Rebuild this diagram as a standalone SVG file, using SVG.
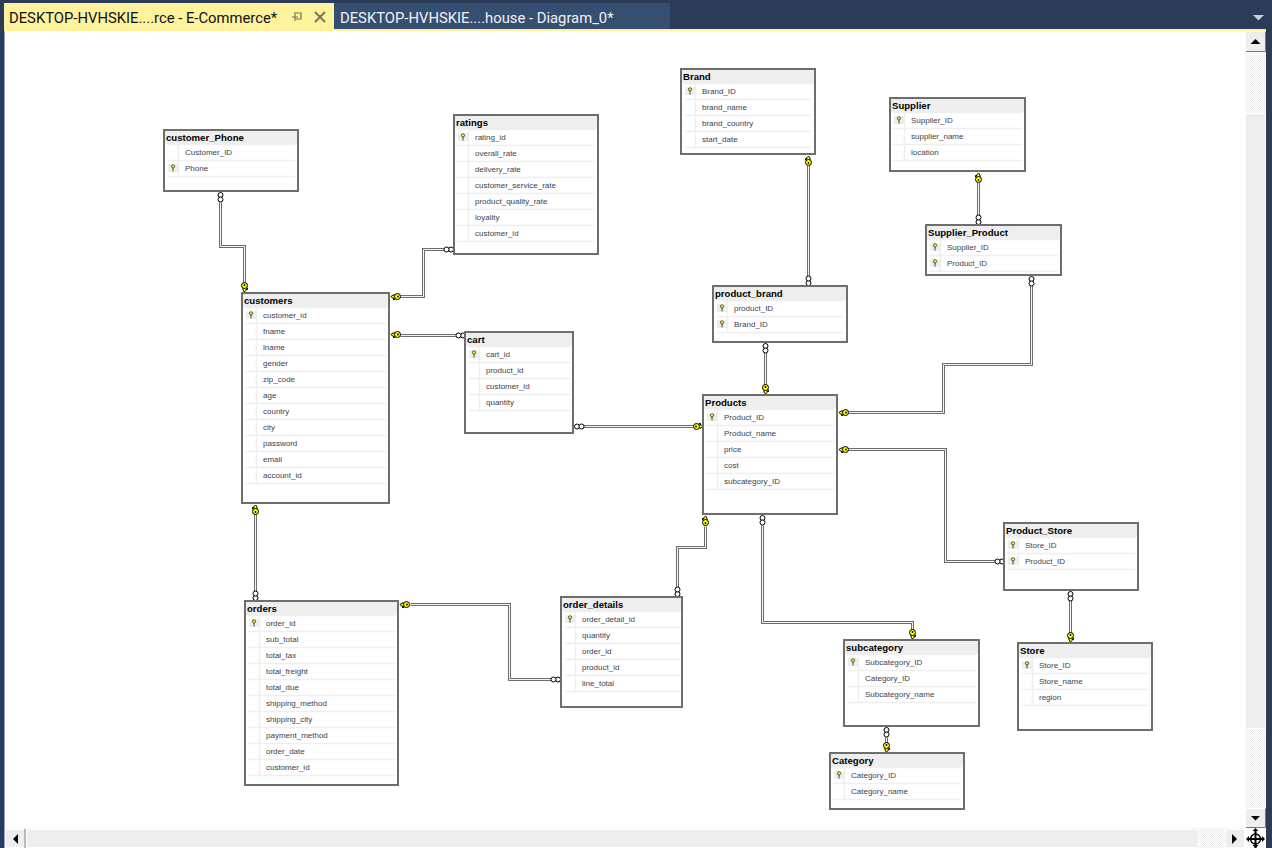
<svg xmlns="http://www.w3.org/2000/svg" width="1272" height="848" viewBox="0 0 1272 848">
<style>
.box{fill:#fff;stroke:#6e6e6e;stroke-width:2}
.head{fill:#eee}
.rowl{stroke:#efefef;stroke-width:1.5;fill:none}
.t{font-family:"Liberation Sans",sans-serif;font-size:9.6px;font-weight:700;fill:#000}
.f{font-family:"Liberation Sans",sans-serif;font-size:8px;fill:#3a4250}
.tab{font-family:"Roboto",sans-serif;font-size:14.8px}
.c1{fill:none;stroke:#6e6e6e;stroke-width:3}
.c2{fill:none;stroke:#f4f4f4;stroke-width:1}
.k{fill:#ffff00;stroke:#000;stroke-width:1}
.i{fill:#fff;stroke:#000;stroke-width:1}
.btn{fill:#eee;stroke:#fff;stroke-width:1}
.ar{fill:#000}
</style>
<defs>
<pattern id="dots" width="2" height="2" patternUnits="userSpaceOnUse"><rect width="2" height="2" fill="#fff"/><rect width="1" height="1" fill="#eee"/><rect x="1" y="1" width="1" height="1" fill="#eee"/></pattern>
<g id="key"><path class="k" d="M0.500 0L2.500 -1.500H5.500V1.500H4.500V3H3V1.500H2Z"/><circle class="k" cx="7" cy="0" r="3"/><circle cx="7.500" cy="0" r="0.9" fill="#000"/></g>
<g id="inf"><circle class="i" cx="2.500" cy="0" r="2.500"/><circle class="i" cx="7" cy="0" r="2.500"/></g>
<g id="pk"><rect x="-5" y="-4" width="11" height="8" fill="#eee"/><path d="M0 -3.200a1.600 1.600 0 1 1 -0.010 0M0 0V3.500" fill="#ff0" stroke="#332" stroke-width="0.900"/></g>
</defs>

<rect id="bg" width="1272" height="848" fill="#2b3b58"/>
<rect x="4" y="29" width="1262" height="819" fill="#fff"/>
<rect x="4" y="29" width="1" height="819" fill="#8ea2c8"/>
<rect x="4" y="29" width="1262" height="2" fill="#fff29d"/>

<g id="tabs">
<rect x="4" y="3" width="330" height="28" fill="#fff29d"/>
<rect x="334" y="3" width="336" height="26" fill="#364e6f"/>
<text class="tab" x="9" y="23" fill="#111">DESKTOP-HVHSKIE....rce - E-Commerce*</text>
<text class="tab" x="340" y="23" fill="#eef2f8">DESKTOP-HVHSKIE....house - Diagram_0*</text>
<path d="M292 17h6M295 12v9M296 13h5v6h-5M301 16h-1" fill="none" stroke="#7c7550" stroke-width="1.200"/>
<path d="M315 12l10 10M325 12l-10 10" fill="none" stroke="#7c7550" stroke-width="2"/>
<path d="M1253 15h11l-5.500 5.500z" fill="#c9d0dc"/>
</g>

<g id="connectors" transform="translate(0.500,0.500)">
<g id="c-phone"><path class="c1" d="M220 202V246H244V283"/><path class="c2" d="M220 202V246H244V283"/><use href="#inf" transform="translate(220,192) rotate(90)"/><use href="#key" transform="translate(244,292) rotate(-90)"/></g>
<g id="c-ratings"><path class="c1" d="M444 249H423V296H400"/><path class="c2" d="M444 249H423V296H400"/><use href="#inf" transform="translate(453,249) rotate(180)"/><use href="#key" transform="translate(390,296)"/></g>
<g id="c-cart-cust"><path class="c1" d="M456 335H400"/><path class="c2" d="M456 335H400"/><use href="#inf" transform="translate(465,335) rotate(180)"/><use href="#key" transform="translate(390,334)"/></g>
<g id="c-cart-prod"><path class="c1" d="M583 426H693"/><path class="c2" d="M583 426H693"/><use href="#inf" transform="translate(574,426)"/><use href="#key" transform="translate(703,426) rotate(180)"/></g>
<g id="c-cust-orders"><path class="c1" d="M255 514V592"/><path class="c2" d="M255 514V592"/><use href="#key" transform="translate(255,504) rotate(90)"/><use href="#inf" transform="translate(255,600) rotate(-90)"/></g>
<g id="c-orders-det"><path class="c1" d="M410 604H509V679H551"/><path class="c2" d="M410 604H509V679H551"/><use href="#key" transform="translate(399,604)"/><use href="#inf" transform="translate(560,679) rotate(180)"/></g>
<g id="c-det-prod"><path class="c1" d="M677 587V547H705V526"/><path class="c2" d="M677 587V547H705V526"/><use href="#inf" transform="translate(677,596) rotate(-90)"/><use href="#key" transform="translate(705,515) rotate(90)"/></g>
<g id="c-prod-sub"><path class="c1" d="M762 525V622H912V630"/><path class="c2" d="M762 525V622H912V630"/><use href="#inf" transform="translate(762,515) rotate(90)"/><use href="#key" transform="translate(912,639) rotate(-90)"/></g>
<g id="c-sub-cat"><path class="c1" d="M886 737V743"/><path class="c2" d="M886 737V743"/><use href="#inf" transform="translate(886,727) rotate(90)"/><use href="#key" transform="translate(886,752) rotate(-90)"/></g>
<g id="c-pb-prod"><path class="c1" d="M765 352V385"/><path class="c2" d="M765 352V385"/><use href="#inf" transform="translate(765,343) rotate(90)"/><use href="#key" transform="translate(765,394) rotate(-90)"/></g>
<g id="c-pb-brand"><path class="c1" d="M808 276V165"/><path class="c2" d="M808 276V165"/><use href="#inf" transform="translate(808,285) rotate(-90)"/><use href="#key" transform="translate(808,155) rotate(90)"/></g>
<g id="c-sp-sup"><path class="c1" d="M978 215V182"/><path class="c2" d="M978 215V182"/><use href="#inf" transform="translate(978,224) rotate(-90)"/><use href="#key" transform="translate(978,172) rotate(90)"/></g>
<g id="c-sp-prod"><path class="c1" d="M1031 285V364H943V412H848"/><path class="c2" d="M1031 285V364H943V412H848"/><use href="#inf" transform="translate(1031,276) rotate(90)"/><use href="#key" transform="translate(838,412)"/></g>
<g id="c-ps-prod"><path class="c1" d="M995 561H945V449H848"/><path class="c2" d="M995 561H945V449H848"/><use href="#inf" transform="translate(1004,561) rotate(180)"/><use href="#key" transform="translate(838,449)"/></g>
<g id="c-ps-store"><path class="c1" d="M1070 600V633"/><path class="c2" d="M1070 600V633"/><use href="#inf" transform="translate(1070,591) rotate(90)"/><use href="#key" transform="translate(1070,642) rotate(-90)"/></g>
</g>

<g id="customer_Phone"><rect class="box" x="164" y="130" width="134" height="61"/><rect class="head" x="165" y="131" width="132" height="13"/><path class="rowl" d="M167 144.500H295M167 160.500H295M167 176.500H295M178.500 145V176"/><use href="#pk" transform="translate(173,168)"/><text class="t" x="166" y="141">customer_Phone</text><text class="f" x="185" y="155">Customer_ID</text><text class="f" x="185" y="171">Phone</text></g>

<g id="ratings"><rect class="box" x="454" y="115" width="144" height="139"/><rect class="head" x="455" y="116" width="142" height="13"/><path class="rowl" d="M457 129.500H595M457 145.500H595M457 161.500H595M457 177.500H595M457 193.500H595M457 209.500H595M457 225.500H595M457 241.500H595M468.500 130V241"/><use href="#pk" transform="translate(463,137)"/><text class="t" x="456" y="126">ratings</text><text class="f" x="475" y="140">rating_id</text><text class="f" x="475" y="156">overall_rate</text><text class="f" x="475" y="172">delivery_rate</text><text class="f" x="475" y="188">customer_service_rate</text><text class="f" x="475" y="204">product_quality_rate</text><text class="f" x="475" y="220">loyality</text><text class="f" x="475" y="236">customer_id</text></g>

<g id="Brand"><rect class="box" x="681" y="69" width="134" height="85"/><rect class="head" x="682" y="70" width="132" height="13"/><path class="rowl" d="M684 83.500H812M684 99.500H812M684 115.500H812M684 131.500H812M684 147.500H812M695.500 84V147"/><use href="#pk" transform="translate(690,91)"/><text class="t" x="683" y="80">Brand</text><text class="f" x="702" y="94">Brand_ID</text><text class="f" x="702" y="110">brand_name</text><text class="f" x="702" y="126">brand_country</text><text class="f" x="702" y="142">start_date</text></g>

<g id="Supplier"><rect class="box" x="890" y="98" width="135" height="73"/><rect class="head" x="891" y="99" width="133" height="13"/><path class="rowl" d="M893 112.500H1022M893 128.500H1022M893 144.500H1022M893 160.500H1022M904.500 113V160"/><use href="#pk" transform="translate(899,120)"/><text class="t" x="892" y="109">Supplier</text><text class="f" x="911" y="123">Supplier_ID</text><text class="f" x="911" y="139">supplier_name</text><text class="f" x="911" y="155">location</text></g>

<g id="Supplier_Product"><rect class="box" x="926" y="225" width="135" height="50"/><rect class="head" x="927" y="226" width="133" height="13"/><path class="rowl" d="M929 239.500H1058M929 255.500H1058M929 271.500H1058M940.500 240V271"/><use href="#pk" transform="translate(935,247)"/><use href="#pk" transform="translate(935,263)"/><text class="t" x="928" y="236">Supplier_Product</text><text class="f" x="947" y="250">Supplier_ID</text><text class="f" x="947" y="266">Product_ID</text></g>

<g id="product_brand"><rect class="box" x="713" y="286" width="134" height="56"/><rect class="head" x="714" y="287" width="132" height="13"/><path class="rowl" d="M716 300.500H844M716 316.500H844M716 332.500H844M727.500 301V332"/><use href="#pk" transform="translate(722,308)"/><use href="#pk" transform="translate(722,324)"/><text class="t" x="715" y="297">product_brand</text><text class="f" x="734" y="311">product_ID</text><text class="f" x="734" y="327">Brand_ID</text></g>

<g id="customers"><rect class="box" x="242" y="293" width="147" height="210"/><rect class="head" x="243" y="294" width="145" height="13"/><path class="rowl" d="M245 307.500H386M245 323.500H386M245 339.500H386M245 355.500H386M245 371.500H386M245 387.500H386M245 403.500H386M245 419.500H386M245 435.500H386M245 451.500H386M245 467.500H386M245 483.500H386M256.500 308V483"/><use href="#pk" transform="translate(251,315)"/><text class="t" x="244" y="304">customers</text><text class="f" x="263" y="318">customer_id</text><text class="f" x="263" y="334">fname</text><text class="f" x="263" y="350">lname</text><text class="f" x="263" y="366">gender</text><text class="f" x="263" y="382">zip_code</text><text class="f" x="263" y="398">age</text><text class="f" x="263" y="414">country</text><text class="f" x="263" y="430">city</text><text class="f" x="263" y="446">password</text><text class="f" x="263" y="462">email</text><text class="f" x="263" y="478">account_id</text></g>

<g id="cart"><rect class="box" x="465" y="332" width="108" height="101"/><rect class="head" x="466" y="333" width="106" height="13"/><path class="rowl" d="M468 346.500H570M468 362.500H570M468 378.500H570M468 394.500H570M468 410.500H570M479.500 347V410"/><use href="#pk" transform="translate(474,354)"/><text class="t" x="467" y="343">cart</text><text class="f" x="486" y="357">cart_id</text><text class="f" x="486" y="373">product_id</text><text class="f" x="486" y="389">customer_id</text><text class="f" x="486" y="405">quantity</text></g>

<g id="Products"><rect class="box" x="703" y="395" width="134" height="119"/><rect class="head" x="704" y="396" width="132" height="13"/><path class="rowl" d="M706 409.500H834M706 425.500H834M706 441.500H834M706 457.500H834M706 473.500H834M706 489.500H834M717.500 410V489"/><use href="#pk" transform="translate(712,417)"/><text class="t" x="705" y="406">Products</text><text class="f" x="724" y="420">Product_ID</text><text class="f" x="724" y="436">Product_name</text><text class="f" x="724" y="452">price</text><text class="f" x="724" y="468">cost</text><text class="f" x="724" y="484">subcategory_ID</text></g>

<g id="Product_Store"><rect class="box" x="1004" y="523" width="134" height="67"/><rect class="head" x="1005" y="524" width="132" height="13"/><path class="rowl" d="M1007 537.500H1135M1007 553.500H1135M1007 569.500H1135M1018.500 538V569"/><use href="#pk" transform="translate(1013,545)"/><use href="#pk" transform="translate(1013,561)"/><text class="t" x="1006" y="534">Product_Store</text><text class="f" x="1025" y="548">Store_ID</text><text class="f" x="1025" y="564">Product_ID</text></g>

<g id="orders"><rect class="box" x="245" y="601" width="153" height="184"/><rect class="head" x="246" y="602" width="151" height="13"/><path class="rowl" d="M248 615.500H395M248 631.500H395M248 647.500H395M248 663.500H395M248 679.500H395M248 695.500H395M248 711.500H395M248 727.500H395M248 743.500H395M248 759.500H395M248 775.500H395M259.500 616V775"/><use href="#pk" transform="translate(254,623)"/><text class="t" x="247" y="612">orders</text><text class="f" x="266" y="626">order_id</text><text class="f" x="266" y="642">sub_total</text><text class="f" x="266" y="658">total_tax</text><text class="f" x="266" y="674">total_freight</text><text class="f" x="266" y="690">total_due</text><text class="f" x="266" y="706">shipping_method</text><text class="f" x="266" y="722">shipping_city</text><text class="f" x="266" y="738">payment_method</text><text class="f" x="266" y="754">order_date</text><text class="f" x="266" y="770">customer_id</text></g>

<g id="order_details"><rect class="box" x="561" y="597" width="121" height="110"/><rect class="head" x="562" y="598" width="119" height="13"/><path class="rowl" d="M564 611.500H679M564 627.500H679M564 643.500H679M564 659.500H679M564 675.500H679M564 691.500H679M575.500 612V691"/><use href="#pk" transform="translate(570,619)"/><text class="t" x="563" y="608">order_details</text><text class="f" x="582" y="622">order_detail_id</text><text class="f" x="582" y="638">quantity</text><text class="f" x="582" y="654">order_id</text><text class="f" x="582" y="670">product_id</text><text class="f" x="582" y="686">line_total</text></g>

<g id="subcategory"><rect class="box" x="844" y="640" width="135" height="86"/><rect class="head" x="845" y="641" width="133" height="13"/><path class="rowl" d="M847 654.500H976M847 670.500H976M847 686.500H976M847 702.500H976M858.500 655V702"/><use href="#pk" transform="translate(853,662)"/><text class="t" x="846" y="651">subcategory</text><text class="f" x="865" y="665">Subcategory_ID</text><text class="f" x="865" y="681">Category_ID</text><text class="f" x="865" y="697">Subcategory_name</text></g>

<g id="Store"><rect class="box" x="1018" y="643" width="134" height="87"/><rect class="head" x="1019" y="644" width="132" height="13"/><path class="rowl" d="M1021 657.500H1149M1021 673.500H1149M1021 689.500H1149M1021 705.500H1149M1032.500 658V705"/><use href="#pk" transform="translate(1027,665)"/><text class="t" x="1020" y="654">Store</text><text class="f" x="1039" y="668">Store_ID</text><text class="f" x="1039" y="684">Store_name</text><text class="f" x="1039" y="700">region</text></g>

<g id="Category"><rect class="box" x="830" y="753" width="134" height="56"/><rect class="head" x="831" y="754" width="132" height="13"/><path class="rowl" d="M833 767.500H961M833 783.500H961M833 799.500H961M844.500 768V799"/><use href="#pk" transform="translate(839,775)"/><text class="t" x="832" y="764">Category</text><text class="f" x="851" y="778">Category_ID</text><text class="f" x="851" y="794">Category_name</text></g>

<g id="scrollbars">
<rect x="1245" y="31" width="21" height="797" fill="url(#dots)"/>
<rect x="5" y="828" width="1240" height="20" fill="url(#dots)"/>
<rect class="btn" x="1245.500" y="113.500" width="20" height="615"/>
<rect class="btn" x="1245.500" y="31.500" width="20" height="20"/><path d="M1246 51.500H1265.500V31.500" fill="none" stroke="#777"/>
<path class="ar" d="M1250.500 44h10l-5 -5z"/>
<rect class="btn" x="1245.500" y="808.500" width="20" height="19"/><path d="M1246 827.500H1265.500V808.500" fill="none" stroke="#777"/>
<path class="ar" d="M1251 816h9l-4.500 4.500z"/>
<rect class="btn" x="5.500" y="829.500" width="19" height="18"/><path d="M25 829V848" stroke="#777" fill="none"/>
<path class="ar" d="M18 834v10l-5 -5z"/>
<rect class="btn" x="26.500" y="829.500" width="1172" height="18"/>
<rect class="btn" x="1225.500" y="829.500" width="19" height="18"/>
<path class="ar" d="M1232 834v10l5 -5z"/>
<rect x="1245" y="828" width="21" height="20" fill="#fff"/>
<path d="M1255.500 830v18M1247 839h17" stroke="#000" stroke-width="2" fill="none"/>
<circle cx="1255.500" cy="839" r="5" fill="none" stroke="#000" stroke-width="1.500"/>
<path class="ar" d="M1255.500 828l3 3h-6zM1255.500 848l3 -3h-6zM1246 839l3 -3v6zM1265 839l-3 -3v6z"/>
</g>
</svg>
